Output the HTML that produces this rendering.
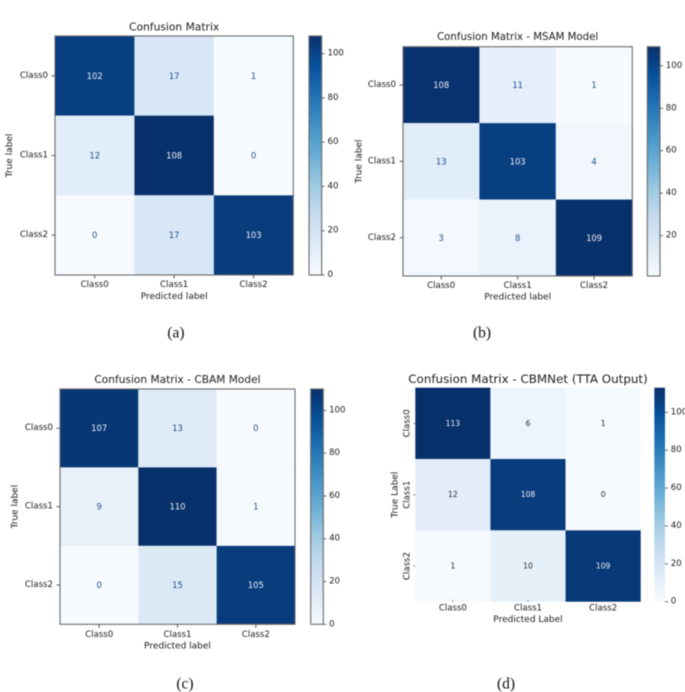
<!DOCTYPE html>
<html lang="en">
<head>
<meta charset="utf-8">
<title>Confusion matrices</title>
<style>
html,body{margin:0;padding:0;background:#fff;width:685px;height:692px;overflow:hidden}
svg{display:block;filter:blur(0.5px)}
text{font-family:"DejaVu Sans","Liberation Sans",sans-serif;fill:#1c1c1c}
.cap{font-family:"Liberation Serif",serif;fill:#111}
</style>
</head>
<body>
<svg id="figure" xmlns="http://www.w3.org/2000/svg" width="685" height="692" viewBox="0 0 685 692"></svg>
<script>
const categories = ['Class0', 'Class1', 'Class2'];
const valuesA = [[102, 17, 1], [12, 108, 0], [0, 17, 103]];
const valuesB = [[108, 11, 1], [13, 103, 4], [3, 8, 109]];
const valuesC = [[107, 13, 0], [9, 110, 1], [0, 15, 105]];
const valuesD = [[113, 6, 1], [12, 108, 0], [1, 10, 109]];
const ticksA = [0, 20, 40, 60, 80, 100];
const ticksB = [20, 40, 60, 80, 100];
const ticksC = [0, 20, 40, 60, 80, 100];
const ticksD = [0, 20, 40, 60, 80, 100];
const blues = ['#f7fbff', '#deebf7', '#c6dbef', '#9ecae1', '#6baed6', '#4292c6', '#2171b5', '#08519c', '#08306b'];

const panels = [
  {id: 'a', title: 'Confusion Matrix', values: valuesA, ticks: ticksA, x0: 55, x1: 293.3, y0: 36, y1: 275, cb0: 309, cb1: 321.7, titleY: 27, titleSize: 10.7, tickY: 285, xlabelY: 297, ylabelX: 10, xlabel: 'Predicted label', ylabel: 'True label', caption: '(a)', capX: 176, capY: 333},
  {id: 'b', title: 'Confusion Matrix - MSAM Model', values: valuesB, ticks: ticksB, x0: 403, x1: 632.3, y0: 46.7, y1: 276, cb0: 647.3, cb1: 660, titleY: 37.7, titleSize: 10.2, tickY: 286, xlabelY: 297.7, ylabelX: 359.3, xlabel: 'Predicted label', ylabel: 'True label', caption: '(b)', capX: 482, capY: 333},
  {id: 'c', title: 'Confusion Matrix - CBAM Model', values: valuesC, ticks: ticksC, x0: 60, x1: 295, y0: 389, y1: 624.3, cb0: 310.7, cb1: 323.3, titleY: 380, titleSize: 10.6, tickY: 635, xlabelY: 646.7, ylabelX: 15.7, xlabel: 'Predicted label', ylabel: 'True label', caption: '(c)', capX: 185, capY: 684},
  {id: 'd', title: 'Confusion Matrix - CBMNet (TTA Output)', values: valuesD, ticks: ticksD, x0: 415.3, x1: 640.7, y0: 387.7, y1: 601.7, cb0: 654.3, cb1: 665, titleY: 379, titleSize: 11.9, tickY: 608.5, xlabelY: 620, ylabelX: 395.7, xlabel: 'Predicted Label', ylabel: 'True Label', caption: '(d)', capX: 506, capY: 684, seaborn: true}
];

const svg = document.getElementById('figure');
const NS = 'http://www.w3.org/2000/svg';

function mk(tag, attrs, parent, content) {
  const el = document.createElementNS(NS, tag);
  for (const k in attrs) el.setAttribute(k, attrs[k]);
  if (content !== undefined) el.textContent = content;
  parent.appendChild(el);
  return el;
}
function hexToRgb(h) {
  return [parseInt(h.slice(1, 3), 16), parseInt(h.slice(3, 5), 16), parseInt(h.slice(5, 7), 16)];
}
function colormap(t) {
  const p = Math.max(0, Math.min(1, t)) * (blues.length - 1);
  const i = Math.min(Math.floor(p), blues.length - 2);
  const f = p - i;
  const a = hexToRgb(blues[i]);
  const b = hexToRgb(blues[i + 1]);
  return 'rgb(' + a.map((v, k) => Math.round(v + (b[k] - v) * f)).join(',') + ')';
}

function drawPanel(p) {
  const flat = p.values.flat();
  const vmin = Math.min(...flat);
  const vmax = Math.max(...flat);
  const n = categories.length;
  const norm = v => (v - vmin) / (vmax - vmin);
  const xScale = i => p.x0 + (p.x1 - p.x0) * i / n;
  const yScale = i => p.y0 + (p.y1 - p.y0) * i / n;
  const cbY = v => p.y1 - (p.y1 - p.y0) * norm(v);
  const cx = (p.x0 + p.x1) / 2;
  const cy = (p.y0 + p.y1) / 2;
  const tickFont = 8.6;
  const labelFont = 9;
  const spine = '#6a6a6a';

  const g = mk('g', {}, svg);
  
  

  const title = mk('text', {x: cx, y: p.titleY, 'text-anchor': 'middle', 'dominant-baseline': 'central', 'font-size': p.titleSize}, g, p.title);
  
  

  p.values.forEach((row, r) => {
    row.forEach((v, c) => {
      const rect = mk('rect', {x: xScale(c), y: yScale(r), width: xScale(c + 1) - xScale(c), height: yScale(r + 1) - yScale(r), fill: colormap(norm(v))}, g);
      
      
      const lightText = norm(v) > 0.5;
      const color = lightText ? '#eef3f8' : (p.seaborn ? '#262626' : '#1f4d8f');
      const val = mk('text', {x: (xScale(c) + xScale(c + 1)) / 2, y: (yScale(r) + yScale(r + 1)) / 2, 'text-anchor': 'middle', 'dominant-baseline': 'central', 'font-size': p.seaborn ? 7.6 : 8.4, style: 'fill:' + color}, g, String(v));
      
      
    });
  });

  if (!p.seaborn) {
    const frame = mk('rect', {x: p.x0, y: p.y0, width: p.x1 - p.x0, height: p.y1 - p.y0, fill: 'none', stroke: spine, 'stroke-width': 1.1}, g);
    
    
  }

  categories.forEach((name, i) => {
    const tx = (xScale(i) + xScale(i + 1)) / 2;
    const ty = (yScale(i) + yScale(i + 1)) / 2;
    const xt = mk('line', p.seaborn
      ? {x1: tx, x2: tx, y1: p.y1 - 2, y2: p.y1, stroke: '#555', 'stroke-width': 0.7}
      : {x1: tx, x2: tx, y1: p.y1, y2: p.y1 + 3.5, stroke: '#333', 'stroke-width': 0.8}, g);
    
    
    const yt = mk('line', p.seaborn
      ? {x1: p.x0 - 2, x2: p.x0, y1: ty, y2: ty, stroke: '#555', 'stroke-width': 0.7}
      : {x1: p.x0 - 3.5, x2: p.x0, y1: ty, y2: ty, stroke: '#333', 'stroke-width': 0.8}, g);
    
    

    const xl = mk('text', {x: tx, y: p.tickY, 'text-anchor': 'middle', 'dominant-baseline': 'central', 'font-size': tickFont}, g, name);
    
    
    const yl = p.seaborn
      ? mk('text', {x: p.x0 - 8, y: ty, 'text-anchor': 'middle', 'dominant-baseline': 'central', 'font-size': tickFont, transform: 'rotate(-90 ' + (p.x0 - 8) + ' ' + ty + ')'}, g, name)
      : mk('text', {x: p.x0 - 7, y: ty, 'text-anchor': 'end', 'dominant-baseline': 'central', 'font-size': tickFont}, g, name);
    
    
  });

  const xlab = mk('text', {x: cx, y: p.xlabelY, 'text-anchor': 'middle', 'dominant-baseline': 'central', 'font-size': labelFont}, g, p.xlabel);
  
  
  const ylab = mk('text', {x: p.ylabelX, y: cy, 'text-anchor': 'middle', 'dominant-baseline': 'central', 'font-size': labelFont, transform: 'rotate(-90 ' + p.ylabelX + ' ' + cy + ')'}, g, p.ylabel);
  
  

  const gradId = 'cbar-gradient-' + p.id;
  const defs = mk('defs', {}, g);
  const grad = mk('linearGradient', {id: gradId, x1: 0, y1: 1, x2: 0, y2: 0}, defs);
  blues.forEach((col, i) => {
    mk('stop', {offset: i / (blues.length - 1), 'stop-color': col}, grad);
  });
  const cbar = mk('rect', {x: p.cb0, y: p.y0, width: p.cb1 - p.cb0, height: p.y1 - p.y0, fill: 'url(#' + gradId + ')', stroke: p.seaborn ? 'none' : spine, 'stroke-width': 1.1}, g);
  
  

  p.ticks.forEach(t => {
    const ct = mk('line', {x1: p.cb1, x2: p.cb1 + 3, y1: cbY(t), y2: cbY(t), stroke: '#444', 'stroke-width': 0.8}, g);
    
    
    const cl = mk('text', {x: p.cb1 + 5.8, y: cbY(t), 'dominant-baseline': 'central', 'font-size': tickFont}, g, String(t));
    
    
  });

  const cap = mk('text', {x: p.capX, y: p.capY, 'text-anchor': 'middle', 'dominant-baseline': 'central', 'font-size': 15.5, class: 'cap', style: 'font-family:"Liberation Serif",serif'}, g, p.caption);
  
  
}

panels.forEach(drawPanel);
</script>
</body>
</html>
